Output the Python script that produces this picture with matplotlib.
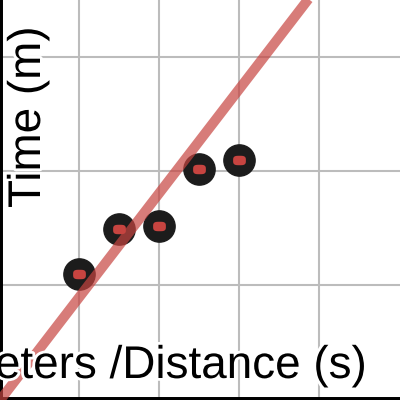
import numpy as np
import matplotlib
matplotlib.use('Agg')
import matplotlib.pyplot as plt
import matplotlib.patheffects as pe

# measured points
distance = [1.0, 1.5, 2.0, 2.5, 3.0]
time_vals = [1.10, 1.49, 1.52, 2.02, 2.10]

# best fit line
fit_slope = 0.913
fit_intercept = -0.023

x_label = 'Meters /Distance (s)'
y_label = 'Time (m)'

plt.rcParams['font.family'] = ['Liberation Sans', 'DejaVu Sans']

fig = plt.figure(figsize=(4, 4), dpi=100)
ax = fig.add_axes([0, 0, 1, 1])

ax.set_xlim(0.0125, 5.0125)
ax.set_ylim(-0.009, 3.5)

for gx in [1, 2, 3, 4]:
    ax.axvline(gx, color='#bcbcbc', lw=1.5, zorder=1)
for gy in [1, 2, 3]:
    ax.axhline(gy, color='#bcbcbc', lw=1.5, zorder=1)

for side in ['top', 'right']:
    ax.spines[side].set_visible(False)
for side in ['left', 'bottom']:
    ax.spines[side].set_color('black')
    ax.spines[side].set_linewidth(4.3)
    ax.spines[side].set_zorder(2)
ax.set_xticks([])
ax.set_yticks([])

# points: dark disc with a red pill inside
t = np.linspace(0, 2 * np.pi, 80)
c, s = np.cos(t), np.sin(t)
# squarish ellipse for a rounded pill look
pill = list(zip(1.35 * np.sign(c) * np.abs(c) ** 0.6, np.sign(s) * np.abs(s) ** 0.6))
ax.plot(distance, time_vals, 'o', color='#1c1c1c', markersize=22.5, zorder=3)
ax.plot(distance, time_vals, marker=pill, linestyle='none', color='#c74440',
        markersize=9.2, markeredgewidth=0, zorder=4)

xs = np.array(ax.get_xlim())
ax.plot(xs, fit_slope * xs + fit_intercept, color='#c74440', alpha=0.7, lw=7.2,
        solid_capstyle='butt', zorder=6)

halo = [pe.withStroke(linewidth=4, foreground='white')]
fig.text(367 / 400, 22 / 400, x_label, fontsize=33, ha='right', va='baseline',
         path_effects=halo, zorder=5)
fig.text(40 / 400, 192 / 400, y_label, fontsize=33, rotation=90,
         rotation_mode='anchor', ha='left', va='baseline', path_effects=halo, zorder=5)

fig.savefig('out.png', dpi=100)
